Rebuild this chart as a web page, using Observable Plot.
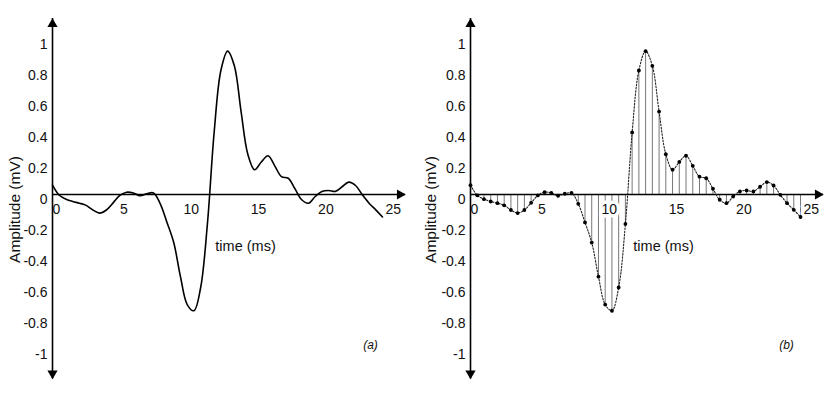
<!DOCTYPE html>
<html>
<head>
<meta charset="utf-8">
<script src="https://cdn.jsdelivr.net/npm/d3@7"></script>
<script src="https://cdn.jsdelivr.net/npm/@observablehq/plot@0.6"></script>
<style>
  html, body { margin: 0; padding: 0; background: #fff; }
  #wrap { display: flex; width: 833px; height: 399px; overflow: hidden; }
</style>
</head>
<body>
<div id="wrap"></div>
<script>
// ---- data (sampling interval 0.5 ms) ----
const times = [0, 0.5, 1, 1.5, 2, 2.5, 3, 3.5, 4, 4.5, 5, 5.5, 6, 6.5, 7, 7.5, 8, 8.5, 9, 9.5,
  10, 10.5, 11, 11.5, 12, 12.5, 13, 13.5, 14, 14.5, 15, 15.5, 16, 16.5, 17, 17.5, 18, 18.5, 19, 19.5,
  20, 20.5, 21, 21.5, 22, 22.5, 23, 23.5, 24, 24.5];
const amplitude = [0.06, -0.005, -0.03, -0.045, -0.056, -0.07, -0.10, -0.12, -0.10, -0.054,
  -0.006, 0.015, 0.01, -0.008, 0.005, 0.01, -0.06, -0.18, -0.31, -0.53,
  -0.71, -0.75, -0.60, -0.19, 0.40, 0.80, 0.925, 0.83, 0.535, 0.26,
  0.16, 0.21, 0.25, 0.185, 0.115, 0.105, 0.037, -0.034, -0.056, -0.013,
  0.02, 0.026, 0.02, 0.05, 0.08, 0.058, -0.002, -0.056, -0.099, -0.145];
const xTicks = [0, 5, 10, 15, 20, 25];
const yTicks = [1, 0.8, 0.6, 0.4, 0.2, 0, -0.2, -0.4, -0.6, -0.8, -1];
const yTickLabels = ["1", "0.8", "0.6", "0.4", "0.2", "0", "-0.2", "-0.4", "-0.6", "-0.8", "-1"];
const xTitle = "time (ms)";
const yTitle = "Amplitude (mV)";
const panelLabels = ["(a)", "(b)"];

const samples = times.map((t, i) => ({t, v: amplitude[i]}));
const yTickRows = yTicks.map((v, i) => ({v, label: yTickLabels[i]}));

// axis extents (arrow tips) in data units
const X_END = 26.2, Y_TOP = 1.135, Y_BOT = -1.19;
const FONT = "'Liberation Sans', Arial, sans-serif";
const INK = "#111";

function panel(kind, width, axisX) {
  const pxPerMs = 13.47;
  const marks = [];
  if (kind === "b") {
    marks.push(Plot.ruleX(samples, {x: "t", y1: 0, y2: "v", stroke: "#777", strokeWidth: 1}));
  }
  // x tick labels with white halo (hides stems beneath)
  marks.push(Plot.text(xTicks, {x: d => d, y: 0, text: d => String(d), dx: 4, dy: 15,
    fontSize: 14, fill: INK, stroke: "white", strokeWidth: 7, paintOrder: "stroke"}));
  // axes
  marks.push(Plot.ruleX([0], {y1: Y_BOT, y2: Y_TOP, stroke: "#000", strokeWidth: 1.6}));
  marks.push(Plot.ruleY([0], {x1: 0, x2: X_END, stroke: "#000", strokeWidth: 1.6}));
  // arrowheads
  marks.push(Plot.dot([[0, Y_TOP]], {x: d => d[0], y: d => d[1], symbol: "triangle", r: 3.8, fill: "#000", stroke: "none", dy: 5.5}));
  marks.push(Plot.dot([[0, Y_BOT]], {x: d => d[0], y: d => d[1], symbol: "triangle", r: 3.8, fill: "#000", stroke: "none", rotate: 180, dy: -5.5}));
  marks.push(Plot.dot([[X_END, 0]], {x: d => d[0], y: d => d[1], symbol: "triangle", r: 3.8, fill: "#000", stroke: "none", rotate: 90, dx: -5.5}));
  // signal
  if (kind === "a") {
    marks.push(Plot.line(samples, {x: "t", y: "v", curve: "catmull-rom", stroke: "#000", strokeWidth: 1.6}));
  } else {
    marks.push(Plot.line(samples, {x: "t", y: "v", curve: "catmull-rom", stroke: "#222", strokeWidth: 1.1, strokeDasharray: "1.6,1.6"}));
    marks.push(Plot.dot(samples, {x: "t", y: "v", r: 1.9, fill: "#000", stroke: "none"}));
  }
  // y tick labels
  marks.push(Plot.text(yTickRows, {x: () => 0, y: "v", text: "label", dx: -5, dy: 5,
    textAnchor: "end", fontSize: 14, fill: INK}));
  // titles
  marks.push(Plot.text([yTitle], {frameAnchor: "left", textAnchor: "middle", text: d => d, rotate: -90,
    dx: 15, dy: 9.5, fontSize: 15.5, fill: INK}));
  marks.push(Plot.text([xTitle], {frameAnchor: "top-left", textAnchor: "middle", text: d => d,
    dx: axisX + 193, dy: 240, fontSize: 14.5, fill: INK}));
  marks.push(Plot.text([panelLabels[kind === "a" ? 0 : 1]], {frameAnchor: "top-left", textAnchor: "middle",
    text: d => d, dx: 370, dy: 340, fontSize: 12, fontStyle: "italic", fill: INK}));

  return Plot.plot({
    width, height: 399,
    marginTop: 0, marginRight: 0, marginBottom: 0, marginLeft: 0,
    x: {domain: [0, 25], range: [axisX, axisX + 25 * pxPerMs], axis: null},
    y: {domain: [-1, 1], range: [349, 39], axis: null},
    style: {fontFamily: FONT, background: "white", overflow: "visible"},
    marks
  });
}

const wrap = document.getElementById("wrap");
wrap.appendChild(panel("a", 416, 52));
wrap.appendChild(panel("b", 417, 54));
</script>
</body>
</html>
